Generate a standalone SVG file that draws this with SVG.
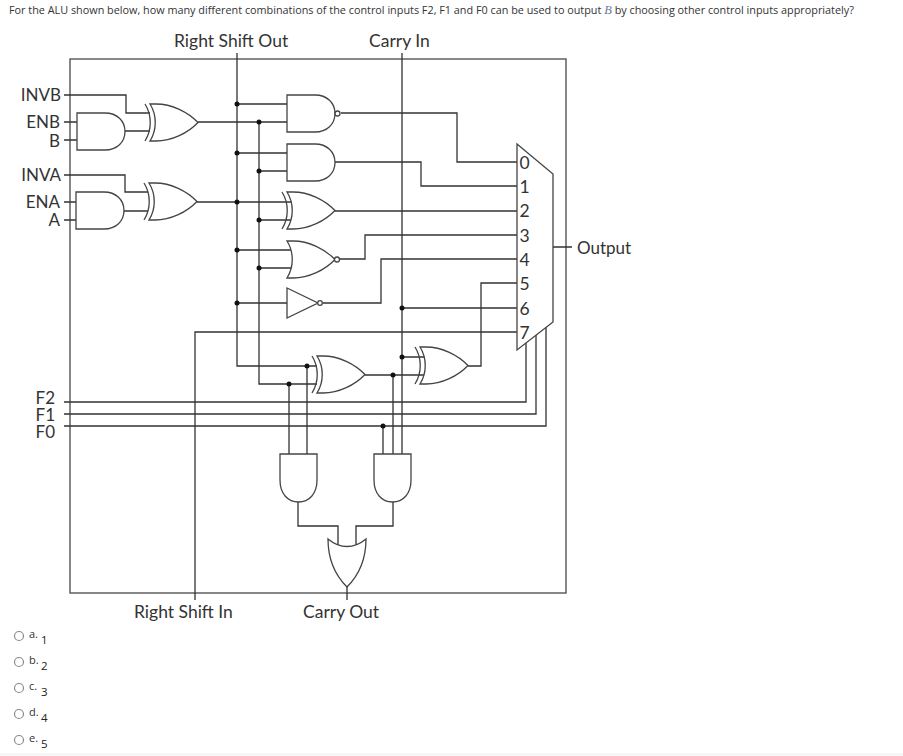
<svg xmlns="http://www.w3.org/2000/svg" width="903" height="756" viewBox="0 0 903 756">
<style>
.w{fill:none;stroke:#333;stroke-width:1.3}
.b{fill:none;stroke:#555;stroke-width:1.4}
.g{fill:#fff;stroke:#444;stroke-width:1.3}
.a{fill:none;stroke:#444;stroke-width:1.3}
.d{fill:#111}
.l{font-family:Lato,"Liberation Sans",sans-serif;font-size:17.500px;fill:#333}
.s{font-size:17px}
.q{font-family:"Open Sans","Liberation Sans",sans-serif;font-size:10.830px;fill:#333}
.o{font-family:"Open Sans","Liberation Sans",sans-serif;font-size:11px;fill:#333}
.n{font-family:"Open Sans","Liberation Sans",sans-serif;font-size:11.500px;fill:#222}
.r{fill:#fff;stroke:#8a8a8a;stroke-width:1.2}
</style>
<defs>
<path id="and" d="M0 0H28C40 0 48 8 48 18.500C48 29 40 37 28 37H0Z"/>
<path id="or" d="M0 0H6C22 0 38 8 48 18.500C38 29 22 37 6 37H0C7 26 7 11 0 0Z"/>
<path id="arc" d="M-5 0C2 11 2 26 -5 37"/>
<path id="andd" d="M0 0H37V26C37 40 29 48 18.500 48C8 48 0 40 0 26Z"/>
</defs>
<rect width="903" height="756" fill="#fff"/>
<rect y="753" width="903" height="3" fill="#f7f7f7"/>
<text class="q" x="9" y="14">For the ALU shown below, how many different combinations of the control inputs F2, F1 and F0 can be used to output <tspan font-family="'Liberation Serif',serif" font-style="italic" font-size="12.500" fill="#6a7a9a">B</tspan> by choosing other control inputs appropriately?</text>
<rect class="b" x="70" y="59" width="496" height="534"/>
<g id="connectors">
<path class="w" d="M64 95H126V113H150M64 122H77M64 140H77M125 131H150"/>
<path class="w" d="M64 175H125V192H148M64 202H76M64 220H76M124 211H148"/>
<path class="w" d="M198 122H287M197 202H292"/>
<path class="w" d="M237 53V366H317M259 122V384H317"/>
<path class="w" d="M237 104H287M237 153H287M259 171H287M259 220H292M237 250H292M259 268H292M237 303H287"/>
<path class="w" d="M341 113H457V162H517M335 162H421V186H517M335 211H517M340 259H365V235H517M323 303H381V259H517"/>
<path class="w" d="M402 53V454M402 308H517M195 600V332H517"/>
<path class="w" d="M402 357H425M365 375H425M468 366H481V283H517"/>
<path class="w" d="M64 402H526V343M64 414H536V335M64 426H546V327"/>
<path class="w" d="M289 384V454M307 366V454M383 426V454M393 375V454"/>
<path class="w" d="M298 502V526H338V545M393 502V526H356V545M347 587V600M553 247H572"/>
<g class="d">
<circle cx="237" cy="104" r="2.500"/><circle cx="259" cy="122" r="2.500"/><circle cx="237" cy="153" r="2.500"/><circle cx="259" cy="171" r="2.500"/><circle cx="237" cy="202" r="2.500"/><circle cx="259" cy="220" r="2.500"/><circle cx="237" cy="250" r="2.500"/><circle cx="259" cy="268" r="2.500"/><circle cx="237" cy="303" r="2.500"/><circle cx="402" cy="308" r="2.500"/><circle cx="402" cy="357" r="2.500"/><circle cx="393" cy="375" r="2.500"/><circle cx="307" cy="366" r="2.500"/><circle cx="289" cy="384" r="2.500"/><circle cx="383" cy="426" r="2.500"/>
</g>
</g>
<g id="and-b"><use href="#and" class="g" x="77" y="113"/></g>
<g id="xor-b"><use href="#or" class="g" x="150" y="104"/><use href="#arc" class="a" x="150" y="104"/></g>
<g id="and-a"><use href="#and" class="g" x="76" y="192"/></g>
<g id="xor-a"><use href="#or" class="g" x="149" y="183"/><use href="#arc" class="a" x="149" y="183"/></g>
<g id="nand"><use href="#and" class="g" x="287" y="95"/><circle class="g" cx="337.500" cy="113.500" r="2.500"/></g>
<g id="and-ab"><use href="#and" class="g" x="287" y="144"/></g>
<g id="xor-ab"><use href="#or" class="g" x="287" y="192"/><use href="#arc" class="a" x="287" y="192"/></g>
<g id="nor"><use href="#or" class="g" x="287" y="241"/><circle class="g" cx="337" cy="259.500" r="2.500"/></g>
<g id="not"><path class="g" d="M287 288L318 303L287 318Z"/><circle class="g" cx="320" cy="303" r="2.300"/></g>
<g id="xor-sum1"><use href="#or" class="g" x="317" y="356"/><use href="#arc" class="a" x="317" y="356"/></g>
<g id="xor-sum2"><use href="#or" class="g" x="420" y="347"/><use href="#arc" class="a" x="420" y="347"/></g>
<g id="and-c1"><use href="#andd" class="g" x="280" y="454"/></g>
<g id="and-c2"><use href="#andd" class="g" x="374" y="454"/></g>
<g id="or-carry"><path class="g" d="M328 539C340 549 354 549 366 539C366 560 358 576 347 587C336 576 328 560 328 539Z"/></g>
<g id="mux">
<path class="g" d="M517 144L553 174V322L517 350Z"/>
<g class="l"><text x="519.500" y="169">0</text><text x="519.500" y="193">1</text><text x="519.500" y="217">2</text><text x="519.500" y="242">3</text><text x="519.500" y="266">4</text><text x="519.500" y="290">5</text><text x="519.500" y="315">6</text><text x="519.500" y="339">7</text></g>
</g>
<g id="labels" class="l">
<text x="174" y="47">Right Shift Out</text>
<text x="369" y="47">Carry In</text>
<g class="s">
<text x="61" y="101" text-anchor="end">INVB</text>
<text x="60" y="128" text-anchor="end">ENB</text>
<text x="60" y="147" text-anchor="end">B</text>
<text x="61" y="181" text-anchor="end">INVA</text>
<text x="60" y="208" text-anchor="end">ENA</text>
<text x="60" y="226" text-anchor="end">A</text>
<text x="55" y="404" text-anchor="end">F2</text>
<text x="55" y="421" text-anchor="end">F1</text>
<text x="55" y="438" text-anchor="end">F0</text>
<text x="577" y="254">Output</text>
</g>
<text x="134" y="618">Right Shift In</text>
<text x="303" y="618">Carry Out</text>
</g>
<g id="options">
<circle class="r" cx="19" cy="636" r="4.500"/><text class="o" x="29" y="638">a.</text><text class="n" x="41" y="644">1</text>
<circle class="r" cx="19" cy="662" r="4.500"/><text class="o" x="29" y="664">b.</text><text class="n" x="41" y="670">2</text>
<circle class="r" cx="19" cy="688" r="4.500"/><text class="o" x="29" y="690">c.</text><text class="n" x="41" y="696">3</text>
<circle class="r" cx="19" cy="714" r="4.500"/><text class="o" x="29" y="716">d.</text><text class="n" x="41" y="722">4</text>
<circle class="r" cx="19" cy="740" r="4.500"/><text class="o" x="29" y="742">e.</text><text class="n" x="41" y="748">5</text>
</g>
</svg>
